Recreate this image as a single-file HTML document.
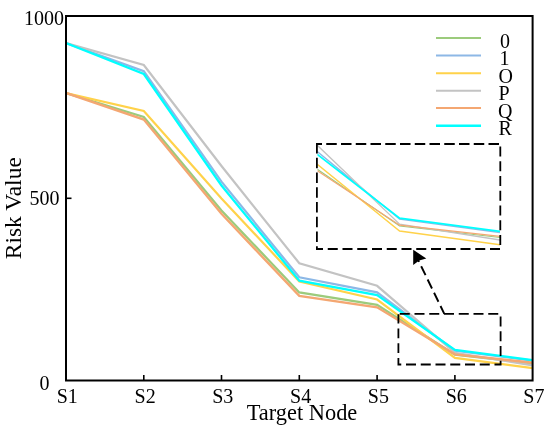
<!DOCTYPE html>
<html lang="en"><head><meta charset="utf-8"><title>Risk Value by Target Node</title>
<style>html,body{margin:0;padding:0;background:#fff;}body{width:550px;height:430px;overflow:hidden;}svg{display:block;}text{font-family:"Liberation Serif","Times New Roman",serif;fill:#000;}</style>
</head><body>
<svg width="550" height="430" viewBox="0 0 550 430">
<rect width="550" height="430" fill="#fff"/>
<defs><clipPath id="c"><rect x="66" y="16" width="466.6" height="364.5"/></clipPath><clipPath id="ci"><rect x="317.3" y="144.4" width="182.7" height="104.4"/></clipPath></defs>
<g clip-path="url(#c)" fill="none" stroke-linejoin="miter" stroke-linecap="butt">
<polyline points="66,93 143.8,117 221.5,210.5 299.3,292.4 377.1,304.9 454.9,354.6 532.6,363.4" stroke="#9CCB7C" stroke-width="2.2"/>
<polyline points="66,43 143.8,71.2 221.5,181.7 299.3,277.3 377.1,292.4 454.9,350.6 532.6,360.7" stroke="#8DB8E6" stroke-width="2.2"/>
<polyline points="66,93 143.8,111 221.5,198.5 299.3,281.5 377.1,299.5 454.9,357.9 532.6,368.1" stroke="#FFD24A" stroke-width="2.2"/>
<polyline points="66,43 143.8,65 221.5,166 299.3,263.3 377.1,285.8 454.9,352.8 532.6,365.3" stroke="#C3C3C3" stroke-width="2.2"/>
<polyline points="66,93 143.8,119.6 221.5,213.8 299.3,295.9 377.1,307.3 454.9,354.4 532.6,362.7" stroke="#F4A772" stroke-width="2.4"/>
<polyline points="66,43 143.8,74 221.5,185.5 299.3,280.7 377.1,295.1 454.9,349.9 532.6,360.1" stroke="#00FFFF" stroke-width="2.3"/>
</g>
<g clip-path="url(#ci)" fill="none" stroke-linejoin="miter">
<polyline points="317.3,169.3 399.6,226 500,237.5" stroke="#9CCB7C" stroke-width="1.2"/>
<polyline points="317.3,151.6 399.6,219.1 500,232.5" stroke="#8DB8E6" stroke-width="1.3"/>
<polyline points="317.3,164.4 399.6,231 500,244.8" stroke="#FFD24A" stroke-width="1.4"/>
<polyline points="317.3,145.3 399.6,224.2 500,240" stroke="#C3C3C3" stroke-width="1.3"/>
<polyline points="317.3,170.7 399.6,225.2 500,236.4" stroke="#F4A772" stroke-width="1.3"/>
<polyline points="317.3,154.4 399.6,218.1 500,231.3" stroke="#00FFFF" stroke-width="1.8"/>
</g>
<g stroke="#000" stroke-width="2" fill="none">
<rect x="66" y="16" width="466.6" height="364.5"/>
</g>
<g stroke="#000" stroke-width="1.6" fill="none">
<line x1="143.8" y1="380" x2="143.8" y2="375"/>
<line x1="221.5" y1="380" x2="221.5" y2="375"/>
<line x1="299.3" y1="380" x2="299.3" y2="375"/>
<line x1="377.1" y1="380" x2="377.1" y2="375"/>
<line x1="454.9" y1="380" x2="454.9" y2="375"/>
<line x1="66" y1="198.3" x2="71.5" y2="198.3"/>
</g>
<path d="M316.00 144H322.00M326.25 144H336.75M341.00 144H351.50M355.75 144H366.25M370.50 144H381.00M385.25 144H395.75M400.00 144H410.50M414.75 144H425.25M429.50 144H440.00M444.25 144H454.75M459.00 144H469.50M473.75 144H484.25M488.50 144H499.00M316.00 249H323.00M327.75 249H337.75M342.50 249H352.50M357.25 249H367.25M372.00 249H382.00M386.75 249H396.75M401.50 249H411.50M416.25 249H426.25M431.00 249H441.00M445.75 249H455.75M460.50 249H470.50M475.25 249H485.25M490.00 249H500.00M316.9 143.00V153.50M316.9 157.75V168.25M316.9 172.50V183.00M316.9 187.25V197.75M316.9 202.00V212.50M316.9 216.75V227.25M316.9 231.50V242.00M316.9 246.25V250.00M500.3 146.50V156.50M500.3 161.25V171.25M500.3 176.00V186.00M500.3 190.75V200.75M500.3 205.50V215.50M500.3 220.25V230.25M500.3 235.00V245.00M399.75 313.8H409.75M414.50 313.8H424.50M429.25 313.8H439.25M444.00 313.8H454.00M458.75 313.8H468.75M473.50 313.8H483.50M488.25 313.8H498.25M397.50 364.5H401.25M406.00 364.5H416.00M420.75 364.5H430.75M435.50 364.5H445.50M450.25 364.5H460.25M465.00 364.5H475.00M479.75 364.5H489.75M494.50 364.5H501.50M398.4 314.30V323.55M398.4 328.50V338.30M398.4 343.25V353.05M398.4 358.00V365.50M500.6 316.50V326.50M500.6 331.25V341.25M500.6 346.00V356.00M500.6 360.75V365.50" stroke="#000" stroke-width="1.8" fill="none"/>
<line x1="413.2" y1="249.8" x2="444.3" y2="313.8" stroke="#000" stroke-width="1.9" stroke-dasharray="10 4.75" stroke-dashoffset="11.25"/>
<polygon points="413.2,249.8 426.3,258.5 419.2,260.6 413.2,264.9" fill="#000"/>
<line x1="436" y1="38" x2="481" y2="38" stroke="#9CCB7C" stroke-width="2.0"/>
<text x="500.1" y="48.3" font-size="20">0</text>
<line x1="436" y1="55.5" x2="481" y2="55.5" stroke="#8DB8E6" stroke-width="2.0"/>
<text x="499.4" y="65.4" font-size="20">1</text>
<line x1="436" y1="73.2" x2="481" y2="73.2" stroke="#FFD24A" stroke-width="2.0"/>
<text x="498.4" y="82.8" font-size="20">O</text>
<line x1="436" y1="90.7" x2="481" y2="90.7" stroke="#C3C3C3" stroke-width="2.0"/>
<text x="498.6" y="100.2" font-size="20">P</text>
<line x1="436" y1="108" x2="481" y2="108" stroke="#F4A772" stroke-width="2.0"/>
<text x="498.0" y="117.6" font-size="20">Q</text>
<line x1="436" y1="125.7" x2="481" y2="125.7" stroke="#00FFFF" stroke-width="2.4"/>
<text x="498.4" y="135" font-size="20">R</text>
<text x="67.3" y="402.9" font-size="20" text-anchor="middle">S1</text>
<text x="145.10000000000002" y="402.9" font-size="20" text-anchor="middle">S2</text>
<text x="222.8" y="402.9" font-size="20" text-anchor="middle">S3</text>
<text x="300.6" y="402.9" font-size="20" text-anchor="middle">S4</text>
<text x="378.40000000000003" y="402.9" font-size="20" text-anchor="middle">S5</text>
<text x="456.2" y="402.9" font-size="20" text-anchor="middle">S6</text>
<text x="533.9" y="402.9" font-size="20" text-anchor="middle">S7</text>
<text x="63.9" y="24.6" font-size="20" text-anchor="end">1000</text>
<text x="59.6" y="205.3" font-size="20" text-anchor="end">500</text>
<text x="49.5" y="389.8" font-size="20" text-anchor="end">0</text>
<text x="302" y="420.2" font-size="22.4" text-anchor="middle">Target Node</text>
<text transform="translate(20.6,208.2) rotate(-90)" font-size="23.5" text-anchor="middle">Risk Value</text>
</svg>
</body></html>
